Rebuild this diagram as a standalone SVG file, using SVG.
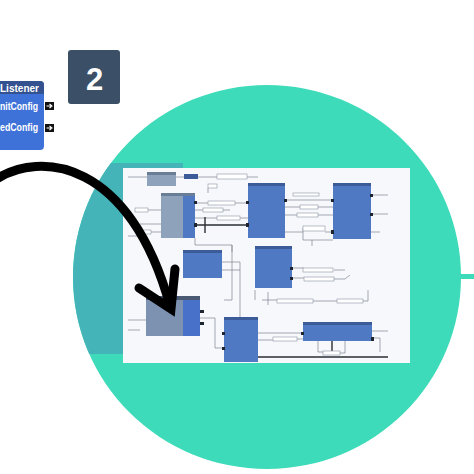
<svg xmlns="http://www.w3.org/2000/svg" width="474" height="474" viewBox="0 0 474 474">
<style>
.bg{fill:#ffffff}
.teal{fill:#3ddbb9}
.band{fill:#45b4b8}
.shot{fill:#f6f8fb}
.nb{fill:#4f7ac3}
.nh{fill:#3b5c98}
.ng{fill:#8ea2bc}
.ngh{fill:#6a7d97}
.lb{fill:#ffffff;stroke:#8a93a3;stroke-width:0.6}
.ln{stroke:#6b7280;stroke-width:0.6;fill:none}
.lk{stroke:#2b2f36;stroke-width:1.4;fill:none}
.pt{fill:#1e2430}
.big{font-family:"Liberation Sans",Arial,sans-serif;font-weight:bold;fill:#ffffff}
.arrow{stroke:#000;stroke-width:9;fill:none;stroke-linecap:round}
</style>
<defs>
<clipPath id="circ"><ellipse cx="267" cy="277" rx="194" ry="192"/></clipPath>
</defs>
<rect class="bg" x="0" y="0" width="474" height="474"/>

<g id="circle-scene">
  <rect class="teal" x="450" y="274" width="24" height="5"/>
  <ellipse class="teal" cx="267" cy="277" rx="194" ry="192"/>
  <rect class="band" x="0" y="163" width="183" height="191" clip-path="url(#circ)"/>
  <rect class="shot" x="123" y="168" width="287" height="195"/>
</g>

<g id="screenshot-links">
  <path class="ln" d="M128 177H147M176 177H184M198 177H217M247 177H258"/>
  <path class="ln" d="M135 210H161M140 224H161M145 232H161M128 236H140"/>
  <path class="ln" d="M195 203H208M235 203H248M195 210H203M223 210H230M195 218H217M240 218H248"/>
  <path class="lk" d="M195 225H248M205 217V233"/>
  <path class="ln" d="M285 200H333M285 207H300M318 207H333M285 215H297M318 215H333M285 232H303M325 232H333"/>
  <path class="ln" d="M303 228V240H312V246M312 240H333"/>
  <path class="ln" d="M371 195H388M371 214H388M371 232H380"/>
  <path class="ln" d="M208 186H217M208 188V193"/>
  <path class="ln" d="M195 238V245H232V252M232 245V300H224"/>
  <path class="ln" d="M292 268H304M334 270H345M292 278H304M334 279H345L350 275"/>
  <path class="ln" d="M262 300H277M313 301H337M363 301H368V290M268 292V305"/>
  <path class="ln" d="M255 290V300"/>
  <path class="ln" d="M222 262H240M222 270H240M240 262V330"/>
  <path class="ln" d="M128 320H146M128 330H140"/>
  <path class="ln" d="M200 318H215V348H224M258 333H303M258 340H273M297 339H303M372 331H388M372 338H380V352"/>
  <path class="ln" d="M318 341V352H323M340 353H345V341"/>
  <path class="lk" d="M258 357H388M332 341V352"/>
</g>

<g id="screenshot-nodes">
  <g id="n-a"><rect class="ng" x="147" y="172" width="29" height="14"/><rect class="ngh" x="147" y="172" width="29" height="3"/></g>
  <g id="n-b"><rect class="nh" x="184" y="174" width="14" height="5"/></g>
  <g id="n-c"><rect class="lb" x="217" y="174" width="30" height="5"/></g>
  <g id="n-d"><rect class="ng" x="161" y="193" width="22" height="45"/><rect class="nb" x="183" y="193" width="12" height="45"/><rect class="ngh" x="161" y="193" width="34" height="3"/></g>
  <g id="n-e"><rect class="nb" x="248" y="183" width="37" height="55"/><rect class="nh" x="248" y="183" width="37" height="3"/></g>
  <g id="n-f"><rect class="nb" x="333" y="183" width="38" height="56"/><rect class="nh" x="333" y="183" width="38" height="3"/></g>
  <g id="n-g"><rect class="nb" x="255" y="246" width="37" height="42"/><rect class="nh" x="255" y="246" width="37" height="3"/></g>
  <g id="n-h"><rect class="nb" x="183" y="250" width="39" height="28"/><rect class="nh" x="183" y="250" width="39" height="3"/></g>
  <g id="n-i"><rect fill="#7d92b0" x="146" y="296" width="37" height="40"/><rect fill="#4872c9" x="183" y="296" width="17" height="40"/><rect fill="#4a5a72" x="146" y="296" width="54" height="4"/></g>
  <g id="n-j"><rect class="nb" x="224" y="317" width="34" height="45"/><rect class="nh" x="224" y="317" width="34" height="3"/></g>
  <g id="n-k"><rect class="nb" x="303" y="322" width="69" height="19"/><rect class="nh" x="303" y="322" width="69" height="3"/></g>
  <g id="labels">
    <rect class="lb" x="208" y="184" width="9" height="4"/>
    <rect class="lb" x="208" y="201" width="27" height="4"/>
    <rect class="lb" x="203" y="208" width="20" height="4"/>
    <rect class="lb" x="217" y="216" width="23" height="4"/>
    <rect class="lb" x="135" y="208" width="13" height="4"/>
    <rect class="lb" x="140" y="230" width="11" height="4"/>
    <rect class="lb" x="293" y="193" width="26" height="3"/>
    <rect class="lb" x="300" y="205" width="18" height="4"/>
    <rect class="lb" x="297" y="213" width="21" height="4"/>
    <rect class="lb" x="303" y="226" width="22" height="5"/>
    <rect class="lb" x="303" y="268" width="30" height="4"/>
    <rect class="lb" x="304" y="277" width="30" height="4"/>
    <rect class="lb" x="277" y="299" width="36" height="4"/>
    <rect class="lb" x="337" y="299" width="26" height="4"/>
    <rect class="lb" x="273" y="337" width="24" height="4"/>
    <rect class="lb" x="323" y="351" width="17" height="4"/>
  </g>
  <g id="ports">
    <rect class="pt" x="194" y="201" width="3" height="3"/>
    <rect class="pt" x="194" y="223" width="3" height="4"/>
    <rect class="pt" x="246" y="223" width="3" height="4"/>
    <rect class="pt" x="246" y="201" width="3" height="3"/>
    <rect class="pt" x="284" y="199" width="3" height="3"/>
    <rect class="pt" x="331" y="199" width="3" height="3"/>
    <rect class="pt" x="331" y="230" width="3" height="4"/>
    <rect class="pt" x="370" y="194" width="3" height="3"/>
    <rect class="pt" x="370" y="213" width="3" height="3"/>
    <rect class="pt" x="200" y="310" width="4" height="3"/>
    <rect class="pt" x="200" y="322" width="4" height="3"/>
    <rect class="pt" x="222" y="332" width="3" height="3"/>
    <rect class="pt" x="222" y="347" width="3" height="3"/>
    <rect class="pt" x="301" y="332" width="3" height="3"/>
    <rect class="pt" x="371" y="337" width="3" height="4"/>
    <rect class="pt" x="290" y="267" width="3" height="3"/>
    <rect class="pt" x="290" y="277" width="3" height="3"/>
  </g>
</g>

<g id="listener-node">
  <rect x="-10" y="81" width="54" height="69" rx="4" fill="#3f72d8"/>
  <path d="M-10 94V85Q-10 81 -6 81H40Q44 81 44 85V94Z" fill="#34528f"/>
  <text class="big" x="0" y="91.5" font-size="10" textLength="39" lengthAdjust="spacingAndGlyphs">Listener</text>
  <text class="big" x="0" y="110" font-size="10.5" textLength="38" lengthAdjust="spacingAndGlyphs">nitConfig</text>
  <text class="big" x="0" y="131" font-size="10.5" textLength="38" lengthAdjust="spacingAndGlyphs">edConfig</text>
  <rect x="45" y="102" width="9" height="8" fill="#111"/>
  <path d="M46.5 106H51M49.5 104L52 106L49.5 108" stroke="#fff" stroke-width="1.1" fill="none"/>
  <rect x="45" y="124" width="9" height="8" fill="#111"/>
  <path d="M46.5 128H51M49.5 126L52 128L49.5 130" stroke="#fff" stroke-width="1.1" fill="none"/>
</g>

<g id="step-2">
  <rect x="68" y="50" width="52" height="54" rx="3" fill="#3b4f66"/>
  <text class="big" x="94.5" y="90" font-size="31" text-anchor="middle">2</text>
</g>

<g id="connectors">
  <path class="arrow" d="M-5 180C40 150 130 160 170 306"/>
  <path class="arrow" d="M139 288L171 309L175 269"/>
</g>
</svg>
